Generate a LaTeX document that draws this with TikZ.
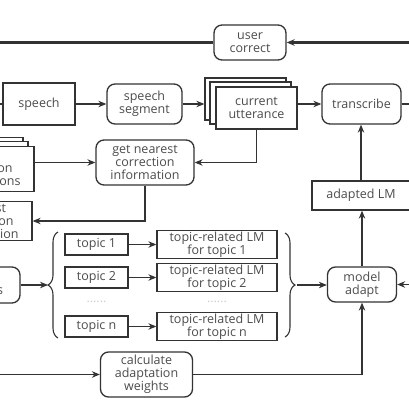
\documentclass[tikz,border=0pt]{standalone}
\usepackage{fontspec}
\setmainfont{Open Sans}
\usetikzlibrary{positioning,arrows.meta,shadows,decorations.pathreplacing}

\begin{document}
\begin{tikzpicture}[x=1pt, y=-1pt, line width=1.1pt, color=black!80,
    every node/.style={font=\fontsize{12.5}{13}\selectfont, text=black!70, align=center, inner sep=1pt},
    box/.style={draw, line width=1.3pt, fill=white},
    rbox/.style={box, rounded corners=8pt},
    doc/.style={box,
      copy shadow={shadow xshift=-11pt, shadow yshift=9pt, draw, fill=white, line width=1.3pt},
      copy shadow={shadow xshift=-6pt, shadow yshift=5pt, draw, fill=white, line width=1.3pt}},
    arr/.style={-{Stealth[length=8pt, width=6.5pt]}},
    brc/.style={decorate, decoration={brace, amplitude=10pt}}]
  \path[use as bounding box, clip] (0,0) rectangle (409,409);

  \node[rbox, minimum width=72pt, minimum height=35pt] (uc) at (250,42.5) {user\\correct};
  \node[box, minimum width=72pt, minimum height=42pt] (sp) at (39,104) {speech};
  \node[rbox, minimum width=75pt, minimum height=40pt] (seg) at (144.5,104) {speech\\segment};
  \node[doc, minimum width=81pt, minimum height=42pt] (cur) at (256.5,108) {current\\utterance};
  \node[rbox, minimum width=79pt, minimum height=40pt] (tr) at (361.5,104) {transcribe};
  \node[doc, minimum width=102pt, minimum height=45pt] (uci) at (-17,169) {user\\correction\\informations};
  \node[rbox, minimum width=98pt, minimum height=45pt] (gn) at (145,162.5) {get nearest\\correction\\information};
  \node[box, minimum width=96pt, minimum height=39pt] (nci) at (-16,221) {nearest\\correction\\information};
  \node[box, minimum width=98pt, minimum height=29pt] (alm) at (361,195.5) {adapted LM};
  \node[rbox, minimum width=80pt, minimum height=36pt] (ta) at (-20,285) {topic\\analysis};
  \node[rbox, minimum width=69pt, minimum height=35pt] (ma) at (362,284.5) {model\\adapt};
  \node[rbox, minimum width=92pt, minimum height=45pt] (caw) at (146.5,374.5) {calculate\\adaptation\\weights};

  \foreach \k/\y in {1/244.5, 2/277.5, n/326.5} {
    \node[box, minimum width=63pt, minimum height=21pt] (t\k) at (96.5,\y) {topic \k};
    \node[box, minimum width=120pt, minimum height=26pt] (lm\k) at (217,\y) {topic-related LM\\for topic \k};
    \draw[arr] (t\k) -- (lm\k);
  }
  \node[text=black!20] (d1) at (96.5,302) {......};
  \node[text=black!20] (d2) at (217,302) {......};

  \draw[brc] (58,338) -- (58,232);
  \draw[brc] (285,233) -- (285,337);
  \coordinate (lb) at (48,285);
  \coordinate (rb) at (297,285);

  \coordinate (tl) at (0,42.5);
  \coordinate (tro) at (409,42.5);
  \coordinate (sl) at (0,104);
  \coordinate (tre) at (409,104);
  \coordinate (mar) at (409,284.5);
  \coordinate (cl) at (0,374.5);
  \coordinate (curin) at ([xshift=-11pt]cur.west);

  \draw[line width=2.6pt] (tl) -- (uc);
  \draw[line width=2.6pt, arr] (tro) -- (uc);
  \draw (sl) -- (sp);
  \draw[arr] (sp) -- (seg);
  \draw[arr] (seg) -- (curin |- seg.east);
  \draw[arr] (cur.east |- tr.west) -- (tr.west);
  \draw (tr.east) -- (tre);
  \draw[arr] (cur.south) |- (gn.east);
  \draw[arr] (uci.east |- gn.west) -- (gn.west);
  \draw[arr] (gn.south) |- (nci.east);
  \draw[arr] (alm.north) -- (alm.north |- tr.south);
  \draw[arr] (ma.north) -- (ma.north |- alm.south);
  \draw[arr] (ta) -- (lb);
  \draw[arr] (rb) -- (rb -| ma.west);
  \draw[arr] (mar) -- (ma);
  \draw[arr] (cl) -- (caw);
  \draw[arr] (caw.east) -| (ma.south);
\end{tikzpicture}
\end{document}
